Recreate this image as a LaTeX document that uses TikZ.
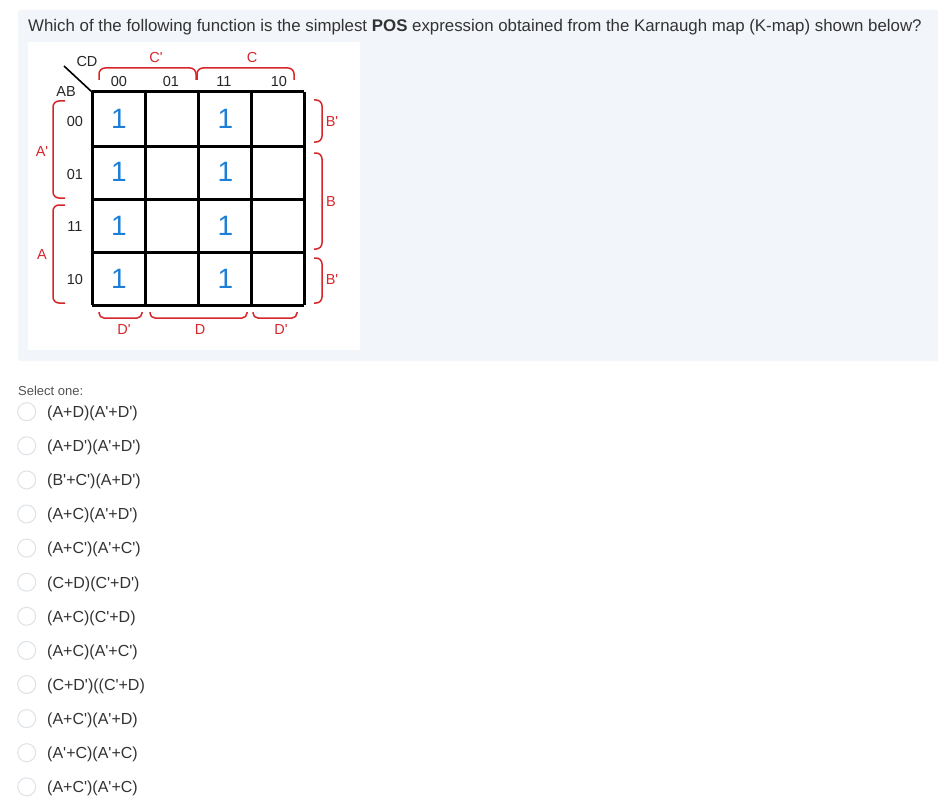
\documentclass[tikz,border=0pt]{standalone}
\usepackage{fontspec}
\setmainfont{Liberation Sans}[Ligatures=TeXOff]
\definecolor{panel}{HTML}{F2F5F9}
\definecolor{txt}{HTML}{333333}
\definecolor{kred}{HTML}{D7262B}
\definecolor{kblue}{HTML}{1C7ED6}
\definecolor{ring}{HTML}{DDE2E6}
\tikzset{
  brace/.style={draw=kred, line width=1.5pt, rounded corners=6pt},
  redlab/.style={text=kred, font=\fontsize{14.5}{16}\selectfont, inner sep=0pt},
  blklab/.style={text=black!85, font=\fontsize{14.5}{16}\selectfont, inner sep=0pt},
  one/.style={text=kblue, font=\fontsize{28}{30}\selectfont, inner sep=0pt},
  opt/.style={anchor=base west, text=txt, font=\fontsize{16}{18}\selectfont, inner sep=0pt},
  radio/.style={draw=ring, line width=1pt, fill=white, circle, minimum size=18pt, inner sep=0pt}
}
\begin{document}
\begin{tikzpicture}[x=1pt,y=-1pt]
\useasboundingbox (0,0) rectangle (938,808);
\fill[white] (0,0) rectangle (938,808);
% panel
\fill[panel, rounded corners=3pt] (18,10) rectangle (945,361);
\fill[white] (28,42) rectangle (360,350);
% question
\node[anchor=base west, text=txt, font=\fontsize{16.85}{19}\selectfont, inner sep=0pt] (q) at (28,31.5)
  {Which of the following function is the simplest \textbf{POS} expression obtained from the Karnaugh map (K-map) shown below?};
% grid
\foreach \x in {92,145,198,251,304} \draw[line width=3pt] (\x,92) -- (\x,305);
\foreach \y in {92,146,199,252,305} \draw[line width=3pt] (92,\y) -- (304,\y);
\coordinate (dg1) at (64,66);
\coordinate (dg2) at (92,92);
\draw[line width=1.6pt] (dg1) -- (dg2);
\node[blklab] (cd) at (87,62) {CD};
\node[blklab] (ab) at (66,92) {AB};
% column labels
\node[blklab] (c00) at (119,82) {00};
\node[blklab] (c01) at (171,82) {01};
\node[blklab] (c11) at (224,82) {11};
\node[blklab] (c10) at (279,82) {10};
% row labels
\node[blklab] (r00) at (75,122) {00};
\node[blklab] (r01) at (75,175) {01};
\node[blklab] (r11) at (75,227) {11};
\node[blklab] (r10) at (75,280) {10};
% ones
\foreach \y [count=\i] in {119,172,226,279} {
  \node[one] (o1\i) at (119,\y) {1};
  \node[one] (o3\i) at (225.5,\y) {1};
}
% top braces
\draw[brace] (99,80) -- (99,68) -- (196,68) -- (196,80);
\draw[brace] (197,80) -- (197,68) -- (294,68) -- (294,80);
\node[redlab] (lc1) at (156,58) {C'};
\node[redlab] (lc) at (252,58) {C};
% left braces
\draw[brace] (65,101) -- (53,101) -- (53,198) -- (65,198);
\draw[brace] (65,205) -- (53,205) -- (53,303) -- (65,303);
\node[redlab] (la1) at (42,152) {A'};
\node[redlab] (la) at (42,255) {A};
% right braces
\draw[brace] (314,100) -- (322,100) -- (322,142) -- (314,142);
\draw[brace] (314,153) -- (322,153) -- (322,249) -- (314,249);
\draw[brace] (314,258) -- (322,258) -- (322,303) -- (314,303);
\node[redlab] (lb1) at (332,122) {B'};
\node[redlab] (lb) at (331,202) {B};
\node[redlab] (lb2) at (332,280) {B'};
% bottom braces
\draw[brace, rounded corners=5pt] (99,312) -- (99,318) -- (142,318) -- (142,312);
\draw[brace, rounded corners=5pt] (150,312) -- (150,318) -- (247,318) -- (247,312);
\draw[brace, rounded corners=5pt] (253,312) -- (253,318) -- (297,318) -- (297,312);
\node[redlab] (ld1) at (124,330) {D'};
\node[redlab] (ld) at (200,330) {D};
\node[redlab] (ld2) at (281,330) {D'};
% options
\node[anchor=base west, text=txt!85, font=\fontsize{13}{15}\selectfont, inner sep=0pt] (sel) at (18,395) {Select one:};
\foreach \t [count=\i] in {(A+D)(A'+D'),(A+D')(A'+D'),(B'+C')(A+D'),(A+C)(A'+D'),(A+C')(A'+C'),(C+D)(C'+D'),(A+C)(C'+D),(A+C)(A'+C'),(C+D')((C'+D),(A+C')(A'+D),(A'+C)(A'+C),(A+C')(A'+C)} {
  \pgfmathsetmacro{\yy}{411.7+34.1*(\i-1)}
  \node[radio] (r\i) at (26.7,\yy) {};
  \node[opt] (t\i) at (47,\yy+5.8) {\t};
}
\end{tikzpicture}
\end{document}
